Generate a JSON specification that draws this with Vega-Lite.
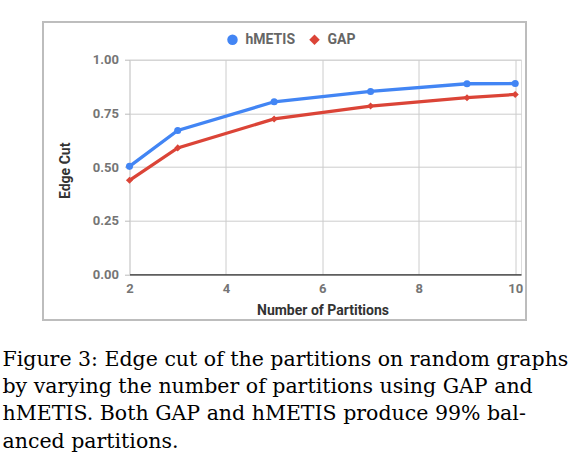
{
  "$schema": "https://vega.github.io/schema/vega-lite/v6.json",
  "autosize": {"type": "none"},
  "padding": {"left": 129.5, "top": 59.7, "right": 54, "bottom": 197.7},
  "width": 391.5,
  "height": 214.6,
  "background": "white",
  "title": {
    "text": [
      "Figure 3: Edge cut of the partitions on random graphs",
      "by varying the number of partitions using GAP and",
      "hMETIS. Both GAP and hMETIS produce 99% bal-",
      "anced partitions."
    ],
    "orient": "bottom",
    "anchor": "start",
    "frame": "group",
    "font": "DejaVu Serif",
    "fontSize": 20.5,
    "fontWeight": "normal",
    "lineHeight": 27.3,
    "color": "black",
    "baseline": "top",
    "offset": 29,
    "dx": -127
  },
  "data": {
    "values": [
      {"k": 2, "cut": 0.503, "method": "hMETIS"},
      {"k": 3, "cut": 0.670, "method": "hMETIS"},
      {"k": 5, "cut": 0.804, "method": "hMETIS"},
      {"k": 7, "cut": 0.852, "method": "hMETIS"},
      {"k": 9, "cut": 0.888, "method": "hMETIS"},
      {"k": 10, "cut": 0.889, "method": "hMETIS"},
      {"k": 2, "cut": 0.438, "method": "GAP"},
      {"k": 3, "cut": 0.589, "method": "GAP"},
      {"k": 5, "cut": 0.724, "method": "GAP"},
      {"k": 7, "cut": 0.784, "method": "GAP"},
      {"k": 9, "cut": 0.823, "method": "GAP"},
      {"k": 10, "cut": 0.838, "method": "GAP"}
    ]
  },
  "encoding": {
    "x": {
      "field": "k",
      "type": "quantitative",
      "title": "Number of Partitions",
      "scale": {"domain": [2, 10.12], "nice": false, "zero": false},
      "axis": {
        "values": [2, 4, 6, 8, 10],
        "ticks": false,
        "domainColor": "#333333",
        "domainWidth": 1.2,
        "gridColor": "#cccccc",
        "labelPadding": 8,
        "labelFont": "Roboto",
        "labelFontSize": 13,
        "labelFontWeight": "bold",
        "labelColor": "#757575",
        "labelFlush": false,
        "titleFont": "Roboto",
        "titleFontSize": 14,
        "titleFontWeight": "bold",
        "titleColor": "#333333",
        "titleX": 193,
        "titleY": 35.7,
        "titleBaseline": "middle",
        "titleAlign": "center"
      }
    },
    "y": {
      "field": "cut",
      "type": "quantitative",
      "title": "Edge Cut",
      "scale": {"domain": [0, 1], "nice": false},
      "axis": {
        "values": [0, 0.25, 0.5, 0.75, 1],
        "format": ".2f",
        "domain": false,
        "tickSize": 5,
        "tickColor": "#bbbbbb",
        "gridColor": "#cccccc",
        "labelPadding": 6,
        "labelFont": "Roboto",
        "labelFontSize": 13,
        "labelFontWeight": "bold",
        "labelColor": "#757575",
        "titleFont": "Roboto",
        "titleFontSize": 14,
        "titleFontWeight": "bold",
        "titleColor": "#333333",
        "titleAngle": -90,
        "titleX": -64.5,
        "titleY": 110.6,
        "titleBaseline": "middle",
        "titleAlign": "center"
      }
    },
    "color": {
      "field": "method",
      "type": "nominal",
      "title": null,
      "scale": {"domain": ["hMETIS", "GAP"], "range": ["#4285F4", "#DB4437"]},
      "legend": {
        "orient": "none",
        "direction": "horizontal",
        "legendX": 96,
        "legendY": -27,
        "labelFont": "Roboto",
        "labelFontSize": 14,
        "labelFontWeight": "bold",
        "labelColor": "#666666",
        "symbolSize": 110,
        "symbolStrokeWidth": 0,
        "labelOffset": 6,
        "columnPadding": 12
      }
    }
  },
  "layer": [
    {
      "mark": {
        "type": "rect",
        "fill": null,
        "fillOpacity": 0,
        "stroke": "#bdbdbd",
        "strokeWidth": 1.3,
        "clip": false
      },
      "encoding": {
        "x": {"datum": 0.205, "type": "quantitative"},
        "x2": {"datum": 10.226},
        "y": {"datum": 1.176, "type": "quantitative"},
        "y2": {"datum": -0.213},
        "color": null
      }
    },
    {
      "mark": {"type": "line", "strokeWidth": 3.3},
      "encoding": {"detail": {"field": "method"}}
    },
    {
      "mark": {"type": "point", "filled": true, "opacity": 1, "size": 50},
      "encoding": {
        "shape": {
          "field": "method",
          "type": "nominal",
          "title": null,
          "scale": {"domain": ["hMETIS", "GAP"], "range": ["circle", "diamond"]}
        }
      }
    }
  ]
}
